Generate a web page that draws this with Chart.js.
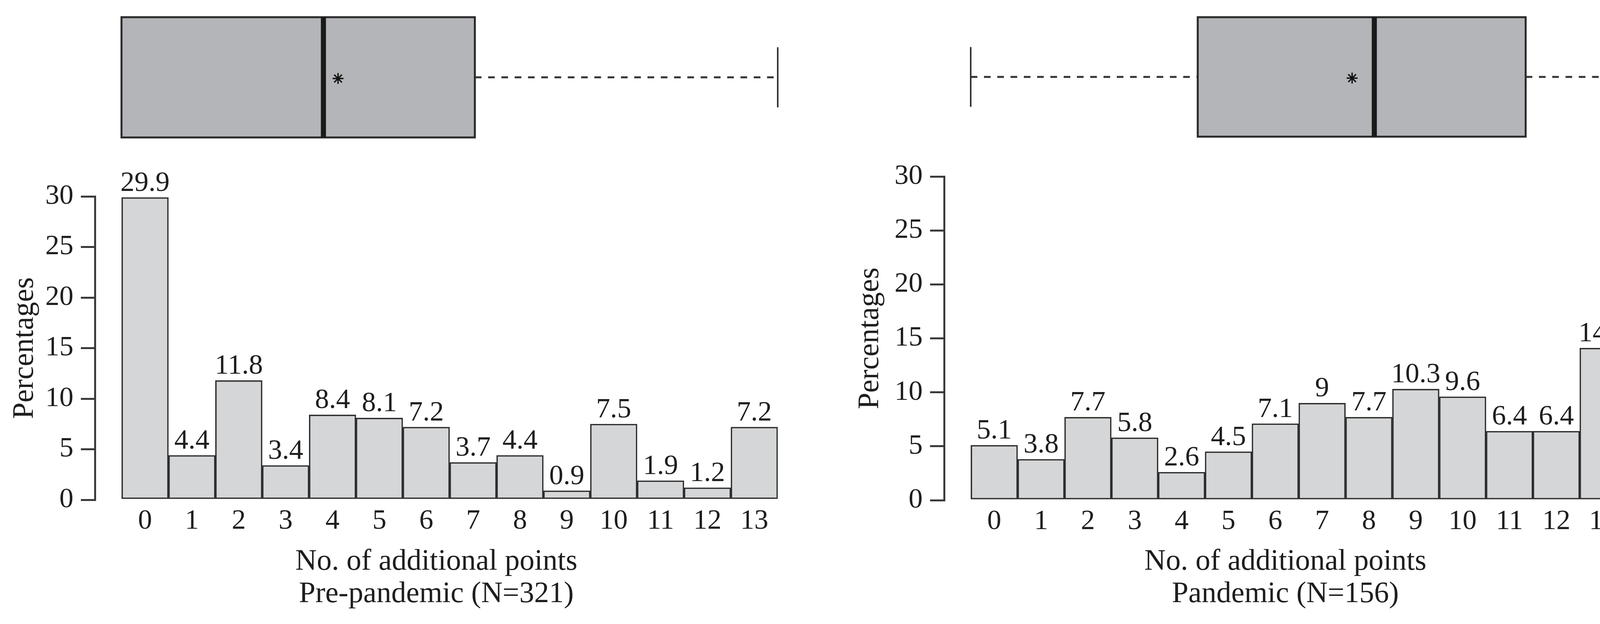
<!DOCTYPE html>
<html>
<head>
<meta charset="utf-8">
<title>No. of additional points</title>
<script src="https://cdn.jsdelivr.net/npm/chart.js@4.4.1/dist/chart.umd.min.js"></script>
<style>
  html, body { margin: 0; padding: 0; background: #fff; overflow: hidden; }
  canvas { position: absolute; }
</style>
</head>
<body>
<canvas id="boxPre" width="2100" height="420" style="left:0;top:0"></canvas>
<canvas id="boxPan" width="2116" height="420" style="left:2100px;top:0"></canvas>
<canvas id="histPre" width="2100" height="1218" style="left:0;top:380px"></canvas>
<canvas id="histPan" width="2116" height="1218" style="left:2100px;top:380px"></canvas>
<script>
// Données
const categories = ['0', '1', '2', '3', '4', '5', '6', '7', '8', '9', '10', '11', '12', '13'];
const prePandemic = [29.9, 4.4, 11.8, 3.4, 8.4, 8.1, 7.2, 3.7, 4.4, 0.9, 7.5, 1.9, 1.2, 7.2];
const pandemic = [5.1, 3.8, 7.7, 5.8, 2.6, 4.5, 7.1, 9, 7.7, 10.3, 9.6, 6.4, 6.4, 14.1];
const yTicks = [0, 5, 10, 15, 20, 25, 30];

// boxplot : min, Q1, médiane, Q3, max
const preBox = [0, 0, 4, 7, 13];
const panBox = [0, 4.5, 8, 11, 13];
const preMean = 4.29;
const panMean = 7.56;

const yTitle = 'Percentages';
const xTitle = 'No. of additional points';
const preTitle = 'Pre-pandemic (N=321)';
const panTitle = 'Pandemic (N=156)';

const fontFamily = '"Liberation Serif", "DejaVu Serif", serif';
const textColor = '#1e1e1e';
const axisColor = '#3a3a3a';

// Pour écrire la valeur au-dessus de chaque barre
const barLabels = {
    id: 'barLabels',
    afterDatasetsDraw(chart) {
        const ctx = chart.ctx;
        const meta = chart.getDatasetMeta(0);
        const data = chart.data.datasets[0].data;
        ctx.save();
        ctx.font = '72px ' + fontFamily;
        ctx.fillStyle = textColor;
        ctx.textAlign = 'center';
        ctx.textBaseline = 'alphabetic';
        meta.data.forEach((bar, i) => {
            ctx.fillText(String(data[i].y), bar.x, bar.y - 17);
        });
        ctx.restore();
    }
};

function histogram(id, values, subtitle, pad, yWidth, xHeight) {
    const context = document.getElementById(id).getContext('2d');

    let points = [];
    for (let i = 0; i < values.length; i++) {
        points.push({ x: i, y: values[i] });
    }

    let config = {
        type: 'bar',
        data: {
            datasets: [{
                data: points,
                backgroundColor: '#d5d6d8',
                borderColor: '#2e2e2e',
                borderWidth: 3.5,
                borderSkipped: false,
                barPercentage: 1,
                categoryPercentage: 1
            }]
        },
        options: {
            responsive: false,
            animation: false,
            layout: { padding: pad },
            plugins: {
                legend: { display: false },
                tooltip: { enabled: false }
            },
            scales: {
                x: {
                    type: 'linear',
                    min: -1.07,   // espace entre l'axe y et la première barre
                    max: 13.5,
                    offset: false,
                    grid: { display: false, drawTicks: false, offset: false },
                    border: { display: false },
                    ticks: {
                        stepSize: 1,
                        includeBounds: false,
                        autoSkip: false,
                        maxRotation: 0,
                        padding: 12,
                        color: textColor,
                        font: { family: fontFamily, size: 72 },
                        callback: v => (v >= 0 ? categories[v] : '')
                    },
                    title: {
                        display: true,
                        text: [xTitle, subtitle],
                        color: textColor,
                        font: { family: fontFamily, size: 76, lineHeight: 1.1 },
                        padding: { top: 0, bottom: 34 }
                    },
                    afterFit: s => { s.height = xHeight; }
                },
                y: {
                    min: 0,
                    max: 30,
                    afterBuildTicks: s => { s.ticks = yTicks.map(v => ({ value: v })); },
                    grid: {
                        drawOnChartArea: false,
                        drawTicks: true,
                        tickLength: 36,
                        color: axisColor,
                        lineWidth: 5
                    },
                    border: { display: true, color: axisColor, width: 5 },
                    ticks: {
                        padding: 19,
                        color: textColor,
                        font: { family: fontFamily, size: 72 }
                    },
                    title: {
                        display: true,
                        text: yTitle,
                        color: textColor,
                        font: { family: fontFamily, size: 76, lineHeight: 1.1 },
                        padding: { top: 22, bottom: 0 }
                    },
                    afterFit: s => { s.width = yWidth; }
                }
            }
        },
        plugins: [barLabels]
    };

    return new Chart(context, config);
}

// order : le plus petit est dessiné au-dessus
function line(points, color, width, order, extra) {
    return Object.assign({
        data: points,
        showLine: true,
        borderColor: color,
        borderWidth: width,
        pointRadius: 0,
        order: order,
        clip: false
    }, extra || {});
}

function boxplot(id, stats, mean, pad) {
    const context = document.getElementById(id).getContext('2d');
    const [mn, q1, med, q3, mx] = stats;
    const edge = '#2a2a2a';
    const dash = [17, 17];

    let datasets = [
        // fond de la boîte
        line([{ x: q1, y: 1 }, { x: q3, y: 1 }], 'rgba(0,0,0,0)', 0, 10,
            { fill: { value: 0 }, backgroundColor: '#b4b5b8' }),
        // contour
        line([{ x: q1, y: 0 }, { x: q3, y: 0 }, { x: q3, y: 1 }, { x: q1, y: 1 }, { x: q1, y: 0 }],
            edge, 5, 6, { borderJoinStyle: 'miter', borderCapStyle: 'square' }),
        // médiane
        line([{ x: med, y: 0 }, { x: med, y: 1 }], '#1a1a1a', 13, 3)
    ];

    if (mn < q1) {
        datasets.push(line([{ x: mn, y: 0.5 }, { x: q1, y: 0.5 }], '#333', 5, 7, { borderDash: dash }));
        datasets.push(line([{ x: mn, y: 0.25 }, { x: mn, y: 0.75 }], '#333', 4, 7));
    }
    if (mx > q3) {
        datasets.push(line([{ x: q3, y: 0.5 }, { x: mx, y: 0.5 }], '#333', 5, 7, { borderDash: dash }));
        datasets.push(line([{ x: mx, y: 0.25 }, { x: mx, y: 0.75 }], '#333', 4, 7));
    }

    // moyenne
    datasets.push({
        data: [{ x: mean, y: 0.49 }],
        showLine: false,
        pointStyle: 'star',
        pointRadius: 14,
        borderColor: '#111',
        borderWidth: 3.5,
        order: 1,
        clip: false
    });

    let config = {
        type: 'scatter',
        data: { datasets: datasets },
        options: {
            responsive: false,
            animation: false,
            layout: { padding: pad },
            plugins: {
                legend: { display: false },
                tooltip: { enabled: false }
            },
            scales: {
                x: { type: 'linear', min: 0, max: 13, display: false },
                y: { type: 'linear', min: 0, max: 1, display: false }
            }
        }
    };

    return new Chart(context, config);
}

window.addEventListener('load', () => {
    boxplot('boxPre', preBox, preMean, { left: 311, right: 109, top: 44, bottom: 68 });
    boxplot('boxPan', panBox, panMean, { left: 385, right: 52, top: 44, bottom: 70 });
    histogram('histPre', prePandemic, preTitle, { left: 0, right: 109, top: 123, bottom: 0 }, 243, 318);
    histogram('histPan', pandemic, panTitle, { left: 64, right: 52, top: 72, bottom: 0 }, 253, 317);
});
</script>
</body>
</html>
